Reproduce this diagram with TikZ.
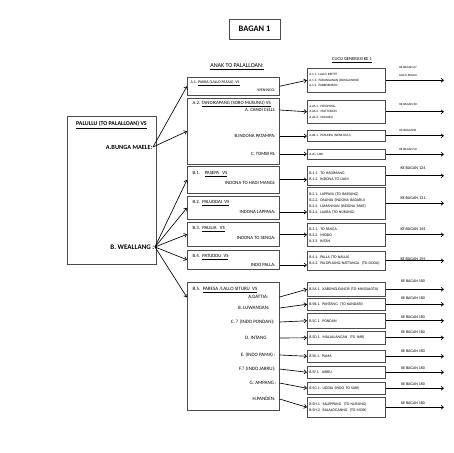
\documentclass[tikz,border=0pt]{standalone}
\usepackage{fontspec}
\setmainfont{Carlito}
\usetikzlibrary{arrows.meta,calc}
\newcommand{\fsz}[1]{\fontsize{#1}{#1}\selectfont}
\tikzset{
  frame/.style={draw=black!70, line width=0.55pt, inner sep=0pt, anchor=north west},
  lbl/.style={inner sep=0.4pt, font=\fsz{4.8}},
  cbox/.style={frame, text width=74pt, inner xsep=2pt, align=left,
    font=\fontsize{3.9}{6}\selectfont},
  cboxa/.style={cbox, font=\fontsize{3.3}{5.5}\selectfont},
  kb/.style={inner sep=0pt, align=center, font=\fsz{4}},
  tip/.style={-{Straight Barb[length=2.5pt,width=4pt]}, line width=0.65pt},
}

\begin{document}
\begin{tikzpicture}[x=1pt,y=-1pt]
  \useasboundingbox[fill=white] (0,0) rectangle (453,453);
  \node[frame, anchor=center, minimum width=51pt, minimum height=20pt,
    font=\bfseries\fsz{8.4}] (title) at (254.5,29) {BAGAN 1};

  % parents
  \node[frame, minimum width=89pt, minimum height=148pt] (root) at (67,116) {};
  \node[lbl, font=\bfseries\fsz{5.9}] (rootname) at (111.5,125) {\underline{PALULLU (TO PALALLOAN) VS}};
  \node[lbl, anchor=east, font=\bfseries\fsz{6.3}] (wifeA) at (153,147) {A.BUNGA MAELE:};
  \node[lbl, anchor=east, font=\bfseries\fsz{7}] (wifeB) at (155,247) {B. WEALLANG :};

  % column headers
  \node[lbl, font=\fsz{6}] (hanak) at (237,67) {\underline{ANAK TO PALALLOAN:}};
  \node[lbl, font=\fsz{4.6}] (hcucu) at (352,60) {\underline{CUCU GENERASI KE 1}};

  % children (anak)
  \node[frame, minimum width=92pt, minimum height=18pt] (mA1) at (187,77) {};
  \node[lbl, anchor=west, font=\fsz{4}] (tA1) at (190,83) {A.1. \underline{PAKKA (LALLO PASAU)\ \ VS}};
  \node[lbl, anchor=east, font=\fsz{4}] (sA1) at (276,90) {WENINGO:};

  \node[frame, minimum width=92pt, minimum height=66pt] (mA2) at (187,98) {};
  \node[lbl, anchor=west] (tA2) at (192,104) {A.2. \underline{TANDIKAPANG (SORO MUSUNU) VS}};
  \node[lbl, anchor=east] (sA2a) at (276,110) {A. CANDI CELLI:};
  \node[lbl, anchor=east] (sA2b) at (276,136) {B.INDONA PATAMPA:};
  \node[lbl, anchor=east] (sA2c) at (276,154) {C. TOMBI RI:};

  \node[frame, minimum width=92pt, minimum height=27pt] (mB1) at (187,166) {};
  \node[lbl, anchor=west] (tB1) at (192,174) {B.1.\quad\underline{PASEPA\ \ \ VS}};
  \node[lbl, anchor=east] (sB1) at (276,183) {INDONA TO HADI MANGI:};

  \node[frame, minimum width=92pt, minimum height=23pt] (mB2) at (187,196) {};
  \node[lbl, anchor=west] (tB2) at (192,203) {B.2.\enspace\underline{PALUDDAI\ \ VS}};
  \node[lbl, anchor=east] (sB2) at (276,212) {INDONA LAPPASA:};

  \node[frame, minimum width=92pt, minimum height=24pt] (mB3) at (187,222) {};
  \node[lbl, anchor=west] (tB3) at (192,229) {B.3.\enspace\underline{PALILIA\ \ \ VS}};
  \node[lbl, anchor=east] (sB3) at (276,238) {INDONA TO SENGA:};

  \node[frame, minimum width=92pt, minimum height=19pt] (mB4) at (187,250) {};
  \node[lbl, anchor=west] (tB4) at (192,257) {B.4.\enspace\underline{PATUDDU\ \ VS}};
  \node[lbl, anchor=east] (sB4) at (276,265) {INDO PALLA:};

  \node[frame, minimum width=92pt, minimum height=128pt] (mB5) at (187,282) {};
  \node[lbl, anchor=west, font=\fsz{5}] (tB5) at (192,290) {B.5.\enspace\underline{PARESA /LALLO SITURU\ \ VS}};
  \node[lbl, anchor=east, font=\fsz{5}] (sB5a) at (269,297) {A.DATTIA:};
  \node[lbl, anchor=east, font=\fsz{5}] (sB5b) at (270,308) {B. LUWANGAN:};
  \node[lbl, anchor=east, font=\fsz{5}] (sB5c) at (275,322) {C. ? (INDO PONDAN):};
  \node[lbl, anchor=east, font=\fsz{5}] (sB5d) at (267,338) {D. INTANG};
  \node[lbl, anchor=east, font=\fsz{5}] (sB5e) at (276,355) {E. (INDO PAMA) :};
  \node[lbl, anchor=east, font=\fsz{5}] (sB5f) at (276,369) {F.? (INDO JARRU):};
  \node[lbl, anchor=east, font=\fsz{5}] (sB5g) at (277,383) {G. AMPANG :};
  \node[lbl, anchor=east, font=\fsz{5}] (sB5h) at (276,399) {H.PANDEN:};

  % grandchildren (cucu)
  \node[cboxa, minimum height=24pt] (cA1) at (307,68) {A.1.1. LALLO BRITTE\\A.1.2. PADANGANAN (BUNGAWOID)\\A.1.3. PABBOKORAN};
  \node[cboxa, minimum height=23pt] (cA2A) at (307,100) {A.2A.1. PATOPONG\\A.2A.2. MATTODON\\A.2A.3. MASURU};
  \node[cboxa, minimum height=11pt] (cA2B) at (307,130) {A.2B.1. PATAMPA (NENE KULI)};
  \node[cboxa, minimum height=10pt] (cA2C) at (307,149) {A.2C.1.ARI};
  \node[cbox, minimum height=19pt] (cB1) at (307,166) {B.1.1. TO HADIMANG\\B.1.2. INDONA TO LIAM};
  \node[cbox, minimum height=32pt] (cB2) at (307,187) {B.2.1. LAPPASA (TO BASSANG)\\B.2.2. DALINIA (INDONA BADARU)\\B.2.3. LAMANNAN (INDONA SAKE)\\B.2.4. LAARA (TO NURANG)};
  \node[cbox, minimum height=23pt] (cB3) at (307,223) {B.3.1. TO SENGA\\B.3.2. MIDDO\\B.3.3. INTAN};
  \node[cbox, minimum height=19pt] (cB4) at (307,251) {B.4.1. PALLA (TO NALLA)\\B.4.2. PALOPLIANG/NATTANGA\ \ (TO DODA)};
  \node[cbox, minimum height=14pt] (cB5a) at (307,282) {B.5A.1. KABONGLEANCIS (TO MASSALOTA)};
  \node[cbox, minimum height=12pt] (cB5b) at (307,298) {B.5B.1. PANTANG\ \ (TO KANDARI)};
  \node[cbox, minimum height=15pt] (cB5c) at (307,313) {B.5C.1. PONDAN};
  \node[cbox, minimum height=13pt] (cB5d) at (307,331) {B.5D.1. MALALLANGAN\ \ (TO IMR)};
  \node[cbox, minimum height=12pt] (cB5e) at (307,350) {B.5E.1. PAMA};
  \node[cbox, minimum height=12pt] (cB5f) at (307,366) {B.5F.1. JARRU};
  \node[cbox, minimum height=12pt] (cB5g) at (307,382) {B.5G.1. UDDIA (INDO TO SARI)};
  \node[cbox, minimum height=20pt] (cB5h) at (307,397) {B.5H.1. SALEPPANG\ \ (TO NURUNG)\\B.5H.2. BALALOGANNG\ \ (TO MOSI)};

  % parents -> children
  \draw[tip] (wifeA.east) -- (mA1.west);
  \draw[tip] (wifeA.east) -- (mA2.west);
  \draw[tip] (wifeB.east) -- (mB1.west);
  \draw[tip] (wifeB.east) -- (mB2.west);
  \draw[tip] (wifeB.east) -- (mB3.west);
  \draw[tip] (wifeB.east) -- (mB4.west);
  \draw[tip] (wifeB.east) -- ($(mB5.north west)!0.12!(mB5.south west)$);

  % children -> grandchildren
  \draw[tip] (mA1.east) -- (cA1.west);
  \draw[tip] (sA2a -| mA2.east) -- (cA2A.west);
  \draw[tip] (sA2b -| mA2.east) -- (sA2b -| cA2B.west);
  \draw[tip] (sA2c -| mA2.east) -- (sA2c -| cA2C.west);
  \draw[tip] (mB1.east) -- (mB1.east -| cB1.west);
  \draw[tip] (sB2 -| mB2.east) -- (sB2 -| cB2.west);
  \draw[tip] (cB3.west -| mB3.east) -- (cB3.west);
  \draw[tip] (sB4 -| mB4.east) -- (sB4 -| cB4.west);
  \foreach \k in {a,b,...,h}
    \draw[tip] (sB5\k -| mB5.east) -- (cB5\k.west);

  % references to other charts
  \coordinate (rim) at (444,0);
  \foreach \c in {cA1,cA2A,cA2B,cA2C,cB1,cB2,cB3,cB4,cB5a,cB5b,cB5c,cB5d,cB5e,cB5f,cB5g,cB5h}
    \draw[tip] (\c.east) -- (\c.east -| rim);
  \node[kb, font=\fontsize{3.2}{8}\selectfont] (kA1) at (408,71) {KE BAGAN 27\\LALLO PAGAU};
  \node[kb, font=\fsz{3.2}] (kA2A) at (408,104) {KE BAGAN 30};
  \node[kb, font=\fsz{3.2}] (kA2B) at (408,130) {KE BAGAN30};
  \node[kb, font=\fsz{3.2}] (kA2C) at (408,149) {KE BAGAN 50};
  \node[kb, font=\fsz{4.2}] (kB1) at (413,168) {KE BAGAN 124};
  \node[kb, font=\fsz{4.2}] (kB2) at (413,198) {KE BAGAN 131};
  \node[kb, font=\fsz{4.2}] (kB3) at (413,229) {KE BAGAN 144};
  \node[kb, font=\fsz{4.2}] (kB4) at (413,259) {KE BAGAN 155};
  \foreach \y [count=\i] in {281,298,317,332,351,368,384,403}
    \node[kb] (kB5-\i) at (413,\y) {KE BAGAN 180};
\end{tikzpicture}
\end{document}
